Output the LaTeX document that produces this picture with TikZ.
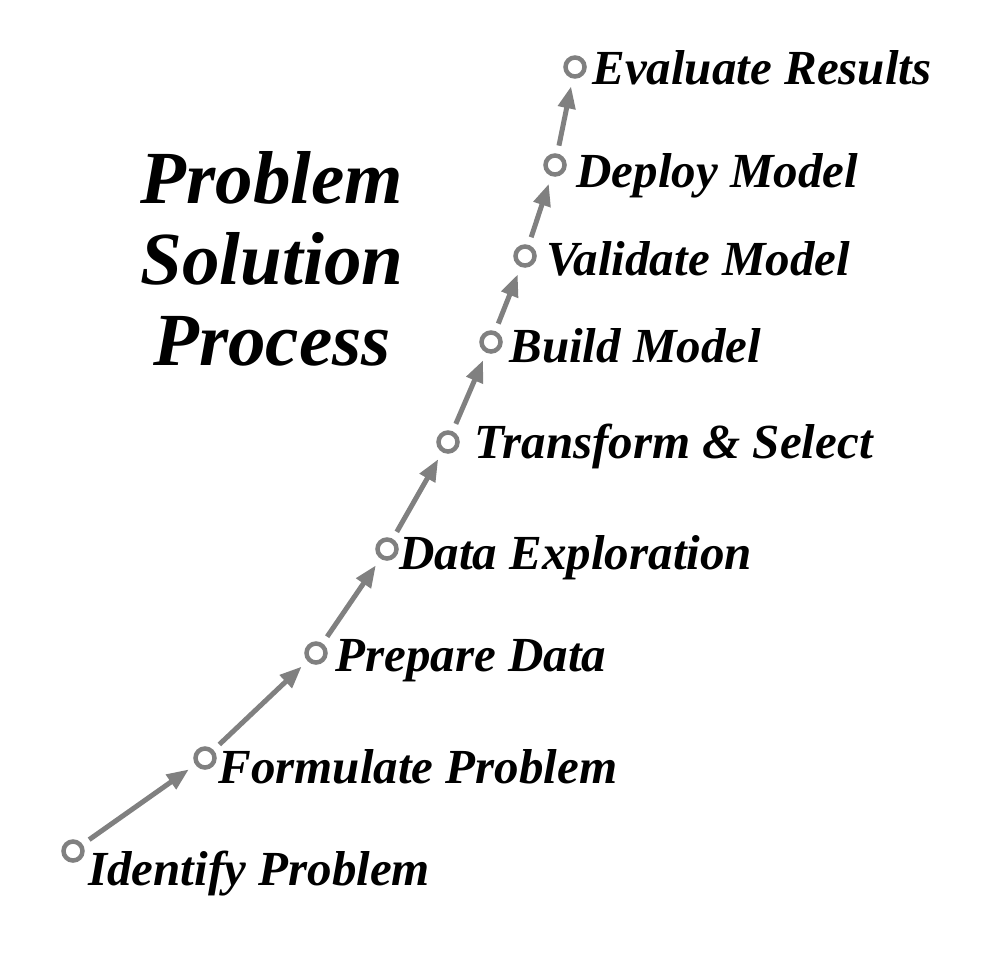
\documentclass[tikz,border=0pt]{standalone}
\usepackage{fontspec}
\setmainfont{Liberation Serif}
\usetikzlibrary{positioning,arrows.meta}

\begin{document}
\begin{tikzpicture}[x=1pt,y=-1pt,thick]
\tikzstyle{dot} = [draw=gray,line width=4.5pt,shape=circle,minimum size=19pt,inner sep=0pt]
\tikzstyle{lbl} = [anchor=base west,inner sep=0pt,font=\fontsize{49}{56}\selectfont\bfseries\itshape]
\tikzstyle{flow} = [draw=gray,line width=5pt,-{Triangle[length=22pt,width=17pt]},shorten <=8pt,shorten >=8pt]
\useasboundingbox (0,0) rectangle (1000,972);
% title
\node[align=center,font=\fontsize{75}{81}\selectfont\bfseries\itshape,anchor=base] (title) at (272,365) {Problem\\Solution\\Process};
% steps
\node[dot] (identify)  at (73,851)  {};
\node[dot] (formulate) at (205,758) {};
\node[dot] (prepare)   at (316,653) {};
\node[dot] (explore)   at (387,549) {};
\node[dot] (transform) at (448,442) {};
\node[dot] (build)     at (491,342) {};
\node[dot] (validate)  at (525,256) {};
\node[dot] (deploy)    at (555,165) {};
\node[dot] (evaluate)  at (575,67)  {};
\node[lbl] (identifyl)  at (88,885)  {Identify Problem};
\node[lbl] (formulatel) at (218,783) {Formulate Problem};
\node[lbl] (preparel)   at (335,671) {Prepare Data};
\node[lbl] (explorel)   at (399,569) {Data Exploration};
\node[lbl] (transforml) at (474,458) {Transform \& Select};
\node[lbl] (buildl)     at (509,362) {Build Model};
\node[lbl] (validatel)  at (546,275) {Validate Model};
\node[lbl] (deployl)    at (576,187) {Deploy Model};
\node[lbl] (evaluatel)  at (592,84)  {Evaluate Results};
% arrows
\draw[flow] (identify) -- (formulate);
\draw[flow] (formulate) -- (prepare);
\draw[flow] (prepare) -- (explore);
\draw[flow] (explore) -- (transform);
\draw[flow] (transform) -- (build);
\draw[flow] (build) -- (validate);
\draw[flow] (validate) -- (deploy);
\draw[flow] (deploy) -- (evaluate);
\end{tikzpicture}
\end{document}
